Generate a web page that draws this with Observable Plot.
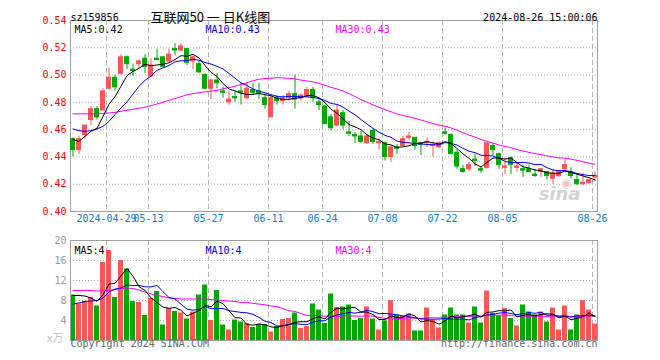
<!DOCTYPE html>
<html><head><meta charset="utf-8">
<script src="https://cdn.jsdelivr.net/npm/d3@7"></script>
<script src="https://cdn.jsdelivr.net/npm/@observablehq/plot@0.6"></script>
<style>
body{margin:0;background:#fff;}
#wrap{position:relative;width:660px;height:360px;overflow:hidden;background:#fff;}
#main,#vol{position:absolute;left:0;}
#main{top:0;}
#vol{top:230px;}
svg{display:block;}
</style></head>
<body><div id="wrap"><div id="main"></div><div id="vol"></div></div>
<script>
// ---- data ----
const code = "sz159856";
const title = "互联网50 一 日K线图";
const stamp = "2024-08-26 15:00:06";
const tickIdx = [6, 13, 23, 33, 42, 52, 62, 72, 87];
const tickLabels = ["2024-04-29", "05-13", "05-27", "06-11", "06-24", "07-08", "07-22", "08-05", "08-26"];
const priceTicks = [0.40, 0.42, 0.44, 0.46, 0.48, 0.50, 0.52, 0.54];
const volTicks = [4, 8, 12, 16, 20];
const priceLabels = ["MA5:0.42", "MA10:0.43", "MA30:0.43"];
const volLabels = ["MA5:4", "MA10:4", "MA30:4"];

const open = [0.453,0.445,0.456,0.467,0.475,0.474,0.490,0.498,0.501,0.513,
  0.504,0.508,0.512,0.499,0.512,0.513,0.510,0.519,0.518,0.519,
  0.510,0.508,0.500,0.490,0.496,0.488,0.480,0.484,0.488,0.483,
  0.489,0.488,0.483,0.469,0.483,0.481,0.483,0.486,0.483,0.484,
  0.489,0.480,0.477,0.469,0.463,0.472,0.458,0.456,0.455,0.450,
  0.459,0.450,0.450,0.440,0.447,0.448,0.454,0.454,0.450,0.450,
  0.448,0.447,0.458,0.456,0.443,0.431,0.431,0.438,0.431,0.432,
  0.448,0.442,0.432,0.439,0.432,0.431,0.431,0.427,0.429,0.429,
  0.424,0.426,0.431,0.429,0.423,0.420,0.421,0.425];
const high = [0.454,0.455,0.463,0.477,0.477,0.490,0.505,0.500,0.515,0.514,
  0.508,0.511,0.515,0.512,0.519,0.513,0.519,0.523,0.523,0.519,
  0.514,0.510,0.501,0.497,0.501,0.491,0.488,0.488,0.494,0.494,
  0.494,0.494,0.486,0.485,0.485,0.485,0.488,0.500,0.486,0.491,
  0.491,0.482,0.478,0.471,0.478,0.474,0.466,0.458,0.459,0.456,
  0.460,0.453,0.451,0.448,0.449,0.455,0.458,0.454,0.450,0.454,
  0.451,0.451,0.461,0.457,0.445,0.434,0.436,0.442,0.433,0.450,
  0.450,0.443,0.439,0.440,0.436,0.434,0.434,0.431,0.431,0.429,
  0.431,0.430,0.438,0.432,0.427,0.428,0.423,0.429];
const low = [0.440,0.442,0.453,0.463,0.467,0.474,0.489,0.488,0.500,0.504,
  0.499,0.505,0.501,0.498,0.511,0.506,0.509,0.514,0.517,0.507,
  0.504,0.501,0.489,0.482,0.490,0.483,0.478,0.480,0.478,0.482,
  0.485,0.482,0.475,0.469,0.478,0.478,0.481,0.475,0.481,0.484,
  0.480,0.474,0.464,0.459,0.462,0.460,0.455,0.450,0.450,0.449,
  0.449,0.445,0.437,0.436,0.442,0.448,0.452,0.445,0.441,0.447,
  0.440,0.446,0.456,0.442,0.431,0.428,0.429,0.433,0.428,0.431,
  0.441,0.431,0.427,0.427,0.429,0.425,0.429,0.425,0.425,0.423,
  0.420,0.425,0.430,0.424,0.419,0.419,0.420,0.422];
const close = [0.445,0.453,0.463,0.475,0.469,0.488,0.498,0.491,0.513,0.508,
  0.503,0.510,0.506,0.507,0.511,0.506,0.515,0.518,0.521,0.509,
  0.513,0.502,0.490,0.496,0.494,0.487,0.482,0.483,0.487,0.490,
  0.487,0.486,0.478,0.483,0.481,0.483,0.486,0.482,0.485,0.489,
  0.483,0.478,0.464,0.461,0.474,0.463,0.457,0.455,0.451,0.455,
  0.451,0.451,0.440,0.447,0.446,0.453,0.455,0.448,0.449,0.451,
  0.449,0.450,0.457,0.442,0.433,0.429,0.434,0.437,0.430,0.450,
  0.445,0.434,0.433,0.434,0.433,0.430,0.429,0.426,0.431,0.426,
  0.428,0.429,0.434,0.426,0.420,0.421,0.423,0.426];
const volume = [9.0,7.2,7.7,8.5,6.8,15.5,17.9,8.5,15.9,14.2,
  7.7,7.5,4.9,8.3,9.7,3.0,6.3,5.7,5.4,4.2,
  5.6,9.0,11.0,3.9,9.9,3.0,2.0,4.0,3.6,3.3,
  2.5,3.1,3.1,1.6,2.7,4.1,4.3,5.4,2.3,2.7,
  7.2,6.0,3.3,9.2,6.5,6.6,7.0,3.9,4.3,6.6,
  4.2,2.0,3.8,7.9,5.0,4.7,5.2,1.8,1.8,6.4,
  3.9,2.4,5.0,6.4,5.0,5.0,3.4,6.6,3.4,9.8,
  5.3,4.8,6.3,4.3,2.8,7.0,5.6,5.0,5.6,3.6,
  6.4,2.0,6.8,2.0,5.0,7.9,6.0,3.2];
// moving-average values at the left edge (window reaches before the first shown day)
const priceMa5Head = [0.4526,0.4514,0.4551,0.4588];
const priceMa10Head = [0.4605,0.4592,0.4588,0.4592,0.4605,0.4624,0.4661,0.4710,0.4760];
const priceMa30Head = [0.4716,0.4716,0.4716,0.4716,0.4716,0.4718,0.4722,0.4727,0.4735,0.4742,
  0.4749,0.4757,0.4764,0.4776,0.4788,0.4801,0.4815,0.4828,0.4842,0.4855,
  0.4864,0.4870,0.4877,0.4882,0.4888,0.4899,0.4908,0.4918,0.4930];
const volMa5Head = [9.0,9.0,8.9,8.5];
const volMa10Head = [7.3,7.5,7.8,7.9,8.0,8.5,9.7,10.3,10.5];
const volMa30Head = [10.0,10.0,10.0,10.0,9.9,9.9,10.0,10.2,10.4,10.5,
  10.4,10.1,9.7,9.3,9.0,8.8,8.5,8.4,8.3,8.3,
  8.3,8.3,8.3,8.2,8.1,8.0,7.9,7.8,7.6];

// ---- derived ----
function movingAvg(vals, k, head) {
  return vals.map((v, i) => i < k - 1 ? head[i] : d3.mean(vals.slice(i - k + 1, i + 1)));
}
const pMa5 = movingAvg(close, 5, priceMa5Head);
const pMa10 = movingAvg(close, 10, priceMa10Head);
const pMa30 = movingAvg(close, 30, priceMa30Head);
const vMa5 = movingAvg(volume, 5, volMa5Head);
const vMa10 = movingAvg(volume, 10, volMa10Head);
const vMa30 = movingAvg(volume, 30, volMa30Head);

const idx = d3.range(close.length);
const RED = "#ff5555", GREEN = "#00a800", BLUE_TXT = "#0a7ed6";
const GRID = "#aaaaaa", FRAME = "#a0a0a0";
const col = i => close[i] >= open[i] ? RED : GREEN;
const xDomain = [0, 527 / 6];
const mid = i => i + 2.5 / 6;
const MONO = "DejaVu Sans Mono, monospace";
const maColors = ["#000000", "#0000ff", "#ff00ff"];
const maDx = [4, 135, 265];

const baseStyle = {fontFamily: MONO, fontSize: "10px", background: "transparent", overflow: "visible"};

const main = Plot.plot({
  width: 660, height: 230,
  marginLeft: 70, marginRight: 63, marginTop: 20, marginBottom: 19,
  x: {domain: xDomain, axis: null},
  y: {domain: [0.40, 0.54], axis: null},
  color: {type: "identity"},
  style: baseStyle,
  marks: [
    Plot.ruleY(priceTicks.slice(1, -1), {y: d => d, stroke: GRID, strokeDasharray: "1,2"}),
    Plot.ruleX(tickIdx, {x: d => d, stroke: "#b4b4b4", strokeDasharray: "5,3"}),
    Plot.frame({stroke: FRAME}),
    Plot.text(["sina"], {frameAnchor: "bottom-right", dx: -17, dy: -12, fill: "#d2d2d2", fontSize: 18, fontWeight: "bold", fontStyle: "italic", fontFamily: "DejaVu Sans"}),
    Plot.text(["◉"], {frameAnchor: "bottom-right", dx: -26, dy: -25, fill: "#f6c2c2", fontSize: 12, fontFamily: "DejaVu Sans"}),
    Plot.ruleX(idx, {x: mid, y1: i => low[i], y2: i => high[i], stroke: col}),
    Plot.rect(idx, {x1: i => i + 0.5 / 6, x2: i => i + 4.5 / 6, y1: i => open[i], y2: i => close[i], fill: col, stroke: col}),
    Plot.line(idx, {x: mid, y: i => pMa30[i], stroke: "#ff00ff", strokeWidth: 1}),
    Plot.line(idx, {x: mid, y: i => pMa10[i], stroke: "#0000ff", strokeWidth: 1}),
    Plot.line(idx, {x: mid, y: i => pMa5[i], stroke: "#000000", strokeWidth: 1}),
    Plot.text(priceTicks, {y: d => d, frameAnchor: "left", dx: -4, textAnchor: "end", fill: "#ff0000", text: d => d.toFixed(2)}),
    Plot.text(tickIdx, {x: d => d, frameAnchor: "bottom", dy: 10, text: (d, i) => tickLabels[i], fill: BLUE_TXT}),
    Plot.text([code], {frameAnchor: "top-left", dy: -7, textAnchor: "start", fill: "#000"}),
    Plot.text([title], {frameAnchor: "top-left", dx: 80, dy: -8, textAnchor: "start", fill: "#000", fontFamily: "Noto Sans CJK SC", fontSize: 13}),
    Plot.text([stamp], {frameAnchor: "top-right", dy: -7, textAnchor: "end", fill: "#000"}),
    ...priceLabels.map((t, k) => Plot.text([t], {frameAnchor: "top-left", dx: maDx[k], dy: 5, textAnchor: "start", fill: maColors[k]}))
  ]
});
document.getElementById("main").append(main);

const vol = Plot.plot({
  width: 660, height: 130,
  marginLeft: 70, marginRight: 63, marginTop: 10, marginBottom: 20,
  x: {domain: xDomain, axis: null},
  y: {domain: [0, 20], axis: null},
  color: {type: "identity"},
  style: baseStyle,
  marks: [
    Plot.ruleY(volTicks.slice(0, -1), {y: d => d, stroke: GRID, strokeDasharray: "1,2"}),
    Plot.ruleX(tickIdx, {x: d => d, stroke: "#b4b4b4", strokeDasharray: "5,3"}),
    Plot.rect(idx, {x1: i => i + 0.5 / 6, x2: i => i + 4.5 / 6, y1: 0, y2: i => volume[i], fill: col, stroke: col}),
    Plot.frame({stroke: FRAME}),
    Plot.line(idx, {x: mid, y: i => vMa30[i], stroke: "#ff00ff", strokeWidth: 1}),
    Plot.line(idx, {x: mid, y: i => vMa10[i], stroke: "#0000ff", strokeWidth: 1}),
    Plot.line(idx, {x: mid, y: i => vMa5[i], stroke: "#000000", strokeWidth: 1}),
    Plot.text(volTicks, {y: d => d, frameAnchor: "left", dx: -4, textAnchor: "end", fill: "#999", text: d => String(d)}),
    Plot.text(["x万"], {frameAnchor: "bottom-left", dx: -7, dy: 1, textAnchor: "end", fill: "#c0c0c0", fontFamily: "Noto Sans CJK SC", fontSize: 11}),
    ...volLabels.map((t, k) => Plot.text([t], {frameAnchor: "top-left", dx: maDx[k], dy: 6, textAnchor: "start", fill: maColors[k]})),
    Plot.text(["Copyright 2024 SINA.COM"], {frameAnchor: "bottom-left", dy: 6, textAnchor: "start", fill: "#666"}),
    Plot.text(["http://finance.sina.com.cn"], {frameAnchor: "bottom-right", dy: 6, textAnchor: "end", fill: "#666"})
  ]
});
document.getElementById("vol").append(vol);
</script>
</body></html>
